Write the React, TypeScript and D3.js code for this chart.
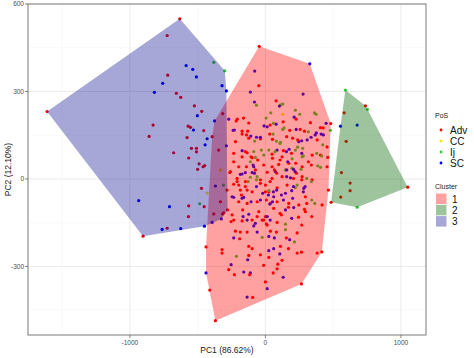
import React from 'react';
import * as d3 from 'd3';

// PoS codes: A = Adv, C = CC, I = Ij, S = SC
const posNames = ['Adv', 'CC', 'Ij', 'SC'];
const posCodes = ['A', 'C', 'I', 'S'];
const posColors = ['#ff0000', '#ffe600', '#33cc33', '#0000ff'];

const clusterNames = ['1', '2', '3'];
const clusterColors = ['#ff0000', '#006400', '#00008b'];
const clusterAlpha = [0.37, 0.38, 0.35];

const xTicks = [-1000, 0, 1000];
const xMinor = [-1500, -500, 500];
const yTicks = [-300, 0, 300, 600];
const yMinor = [-450, -150, 150, 450];

const cluster1: [number, number, string][] = [
  [-46, 455, 'A'], [327, 395, 'S'], [-79, 370, 'S'], [-49, 320, 'A'], [-111, 298, 'S'], [278, 291, 'S'],
  [-81, 264, 'S'], [-66, 253, 'I'], [79, 268, 'A'], [111, 254, 'I'], [128, 257, 'I'], [103, 250, 'S'],
  [39, 227, 'I'], [128, 222, 'C'], [221, 236, 'I'], [253, 222, 'I'], [212, 212, 'S'], [362, 227, 'I'],
  [374, 222, 'I'], [5, 209, 'I'], [-315, 224, 'A'], [-375, 199, 'S'], [-271, 205, 'S'], [-207, 205, 'A'],
  [-216, 199, 'A'], [-162, 209, 'A'], [-123, 192, 'A'], [-10, 182, 'S'], [13, 179, 'S'], [79, 188, 'S'],
  [131, 196, 'A'], [227, 205, 'A'], [332, 193, 'A'], [448, 191, 'S'], [482, 190, 'A'], [480, 167, 'I'],
  [-238, 167, 'S'], [-172, 164, 'A'], [-131, 164, 'A'], [128, 170, 'I'], [138, 175, 'I'], [179, 167, 'A'],
  [227, 170, 'S'], [288, 164, 'A'], [406, 176, 'A'], [426, 175, 'A'], [376, 158, 'S'], [57, 154, 'I'],
  [-108, 147, 'S'],
  [-393, 145, 'A'], [-221, 128, 'A'], [-123, 140, 'A'], [-79, 130, 'I'], [-37, 137, 'A'], [81, 130, 'I'],
  [111, 126, 'I'], [201, 140, 'A'], [246, 128, 'S'], [308, 134, 'S'], [382, 134, 'A'], [423, 117, 'I'],
  [-345, 99, 'A'], [-234, 88, 'A'], [-148, 94, 'A'], [-86, 94, 'I'], [-30, 99, 'I'], [25, 99, 'I'],
  [49, 85, 'A'], [86, 99, 'S'], [155, 94, 'S'], [192, 88, 'A'], [221, 99, 'I'], [275, 105, 'I'],
  [271, 76, 'I'], [345, 82, 'A'], [406, 82, 'A'], [-172, 76, 'A'], [-98, 73, 'A'], [123, 76, 'A'],
  [197, 69, 'I'], [455, 110, 'A'],
  [-234, 59, 'A'], [-111, 59, 'I'], [-197, 42, 'A'], [-86, 42, 'S'], [-13, 48, 'A'], [49, 42, 'A'],
  [98, 50, 'A'], [172, 54, 'A'], [197, 37, 'I'], [271, 42, 'A'], [339, 48, 'A'], [406, 40, 'I'],
  [455, 42, 'A'], [-258, 25, 'A'], [-185, 16, 'S'], [-74, 31, 'A'], [13, 23, 'A'], [74, 25, 'S'],
  [148, 31, 'I'], [229, 20, 'A'],
  [-209, 2, 'A'], [-128, -9, 'I'], [-61, 8, 'I'], [-37, -3, 'A'], [49, 2, 'A'], [123, 8, 'A'],
  [185, 4, 'S'], [271, 8, 'A'], [345, -3, 'A'], [-234, -18, 'A'], [-148, -26, 'A'], [0, -21, 'A'],
  [86, -30, 'A'], [160, -21, 'A'], [221, -30, 'I'], [234, -21, 'I'], [283, -32, 'S'], [339, -9, 'I'],
  [465, -38, 'A'],
  [-246, -61, 'S'], [-177, -55, 'A'], [-98, -44, 'A'], [-20, -49, 'S'], [25, -44, 'A'], [61, -61, 'S'],
  [118, -55, 'S'], [148, -49, 'S'], [201, -66, 'S'], [295, -61, 'A'], [418, -89, 'A'], [-332, -78, 'A'],
  [-197, -78, 'A'], [-135, -84, 'A'], [-61, -78, 'A'], [37, -84, 'A'], [86, -78, 'A'], [172, -84, 'A'],
  [246, -89, 'A'], [364, -84, 'I'],
  [-246, -123, 'A'], [-168, -106, 'A'], [-123, -121, 'S'], [-49, -112, 'A'], [0, -129, 'A'], [61, -101, 'A'],
  [118, -123, 'A'], [148, -106, 'S'], [209, -98, 'S'], [295, -112, 'A'], [-172, -144, 'A'], [-74, -152, 'S'],
  [-13, -141, 'A'], [86, -149, 'A'], [148, -155, 'I'], [13, -158, 'A'], [-393, -149, 'S'],
  [-221, -179, 'A'], [-185, -182, 'A'], [-135, -182, 'A'], [-234, -202, 'S'], [-190, -205, 'A'], [-61, -182, 'S'],
  [-24, -200, 'I'], [25, -197, 'S'], [66, -202, 'S'], [37, -179, 'A'], [81, -182, 'A'], [148, -174, 'I'],
  [155, -202, 'A'], [179, -208, 'S'], [214, -216, 'I'], [234, -185, 'A'], [-123, -231, 'A'], [-98, -239, 'A'],
  [-320, -242, 'A'], [-320, -254, 'A'], [-214, -265, 'I'], [-123, -262, 'A'], [-131, -277, 'S'], [-37, -260, 'A'],
  [25, -246, 'S'], [61, -239, 'S'], [106, -257, 'S'], [111, -231, 'A'], [170, -239, 'A'], [234, -254, 'A'],
  [266, -251, 'A'], [25, -269, 'A'], [123, -279, 'A'], [-253, -294, 'S'], [-271, -311, 'A'], [-160, -319, 'S'],
  [-111, -322, 'S'], [-116, -328, 'A'], [-229, -328, 'A'], [-13, -296, 'A'], [91, -292, 'A'], [86, -308, 'A'],
  [57, -322, 'A'], [131, -337, 'S'], [0, -353, 'A'], [13, -376, 'S'], [-135, -405, 'S'], [-94, -406, 'A'],
  [-438, -322, 'S'], [-438, -233, 'A'], [-411, -381, 'A'], [-369, -486, 'A'], [266, -360, 'A'], [416, -250, 'A'],
  [382, -254, 'A'],
  // denser centre, left half
  [-229, 168, 'S'], [-172, 154, 'A'], [-140, 151, 'A'], [-66, 143, 'S'], [-37, 143, 'S'], [32, 154, 'A'],
  [-172, 97, 'S'], [-135, 90, 'A'], [-106, 76, 'A'], [-74, 74, 'I'], [-12, 82, 'I'], [-57, 65, 'A'],
  [-91, 48, 'S'], [-140, 42, 'A'], [-172, 17, 'S'], [-148, 22, 'S'], [-98, 22, 'S'], [-81, 20, 'S'],
  [-111, 6, 'I'], [-66, -3, 'I'], [-209, -9, 'A'], [-197, -21, 'A'], [-148, -9, 'A'], [-263, 22, 'A'],
  [-283, -38, 'A'], [-185, -38, 'A'], [-135, -38, 'A'], [-66, -26, 'S'], [-37, -15, 'A'], [0, -44, 'A'],
  [25, -40, 'I'], [-172, -66, 'S'], [-160, -63, 'S'], [-106, -78, 'S'], [-37, -72, 'S'], [7, -72, 'A'],
  [32, -86, 'S'], [-234, -63, 'S'], [-234, -141, 'A'], [-165, -129, 'S'], [-135, -141, 'S'], [-98, -141, 'A'],
  [-61, -129, 'A'], [-24, -141, 'A'], [13, -129, 'S'], [-86, -161, 'S'], [7, -154, 'A'], [-253, -146, 'A'],
  // denser centre, right half
  [35, 185, 'A'], [59, 191, 'I'], [256, 170, 'A'], [317, 162, 'I'], [411, 154, 'S'], [428, 151, 'S'],
  [52, 136, 'A'], [108, 122, 'I'], [157, 145, 'A'], [238, 134, 'A'], [268, 131, 'S'], [337, 143, 'S'],
  [367, 151, 'S'], [72, 94, 'I'], [133, 97, 'A'], [175, 102, 'S'], [238, 109, 'I'], [268, 88, 'S'],
  [280, 79, 'I'], [379, 88, 'I'], [416, 79, 'I'], [460, 74, 'A'], [52, 71, 'A'], [108, 65, 'A'],
  [165, 59, 'S'], [224, 54, 'A'], [317, 59, 'A'], [386, 45, 'I'], [66, 31, 'A'], [83, 20, 'A'],
  [157, 31, 'S'], [207, 33, 'S'], [219, 25, 'S'], [263, 33, 'I'], [157, 8, 'S'], [207, 2, 'A'],
  [268, -3, 'A'], [305, 2, 'I'], [35, -9, 'A'], [59, -44, 'S'], [83, -38, 'S'], [133, -72, 'S'],
  [194, -40, 'S'], [207, -26, 'S'], [280, -44, 'S'], [293, -26, 'S'], [52, -78, 'S'], [22, -55, 'S'],
  [342, -72, 'I'], [305, -84, 'A'], [288, -104, 'A'], [170, -97, 'A'], [108, -118, 'A'], [194, -135, 'S'],
  [244, -131, 'A'], [35, -141, 'S'], [268, -158, 'A'], [342, -129, 'A'],
];

const cluster2: [number, number, string][] = [
  [590, 305, 'I'], [738, 251, 'A'], [753, 239, 'I'], [581, 227, 'A'], [554, 181, 'S'], [677, 185, 'S'],
  [596, 129, 'A'], [561, 22, 'A'], [625, -14, 'A'], [625, -40, 'A'], [556, -62, 'A'], [677, -97, 'I'],
  [1050, -28, 'A'], [485, -80, 'A'],
];

const cluster3: [number, number, string][] = [
  [-632, 549, 'A'], [-1611, 231, 'A'], [-903, -196, 'A'], [-725, 492, 'A'], [-721, 356, 'A'], [-657, 294, 'A'],
  [-625, 280, 'A'], [-524, 251, 'A'], [-470, 232, 'A'], [-829, 185, 'A'], [-858, 146, 'A'], [-570, 181, 'A'],
  [-553, 177, 'A'], [-455, 166, 'A'], [-578, 142, 'A'], [-677, 90, 'A'], [-546, 105, 'A'], [-509, 105, 'A'],
  [-509, 93, 'A'], [-566, 72, 'A'], [-489, 52, 'A'], [-460, 42, 'A'], [-448, 46, 'A'], [-500, 33, 'A'],
  [-472, -32, 'A'], [-452, -95, 'A'], [-566, -92, 'A'], [-568, -129, 'A'], [-725, -169, 'A'], [-381, -120, 'A'],
  [-317, -120, 'A'], [-308, -116, 'A'], [-280, -106, 'A'],
  [-381, 400, 'I'], [-300, 371, 'I'], [-485, -85, 'I'], [-310, -21, 'I'],
  [-430, -48, 'C'], [-332, 31, 'C'],
  [-320, 320, 'S'], [-288, 302, 'S'], [-585, 389, 'S'], [-536, 376, 'S'], [-509, 350, 'S'], [-758, 328, 'S'],
  [-819, 297, 'S'], [-502, 217, 'S'], [-531, 168, 'S'], [-430, 138, 'S'], [-445, 117, 'S'], [-935, -74, 'S'],
  [-708, -95, 'S'], [-762, -173, 'S'], [-625, -170, 'S'], [-450, -162, 'S'], [-369, -24, 'S'], [-288, 114, 'S'],
  [-325, -137, 'S'],
];

const clusters = [cluster1, cluster2, cluster3];

const W = 474;
const H = 358;
const panel = { left: 28, right: 426, top: 4, bottom: 335 };
const font = 'Liberation Sans, Arial, Helvetica, sans-serif';

export default function App() {
  const x = d3.scaleLinear().domain([-1752, 1185]).range([panel.left, panel.right]);
  const y = d3.scaleLinear().domain([-535, 600]).range([panel.bottom, panel.top]);
  const posColor = d3.scaleOrdinal<string, string>().domain(posCodes).range(posColors);

  const allPoints = clusters.flat();
  const hulls = clusters.map((pts) => d3.polygonHull(pts.map((p) => [x(p[0]), y(p[1])] as [number, number])));
  const line = d3.line();

  return (
    <svg width={W} height={H} style={{ position: 'absolute', left: 0, top: 0, background: '#fff' }} fontFamily={font}>
      <rect x={0} y={0} width={W} height={H} fill="#fff" />
      {/* grid */}
      {xMinor.map((v) => (
        <line key={'xm' + v} x1={x(v)} x2={x(v)} y1={panel.top} y2={panel.bottom} stroke="#f2f2f2" strokeWidth={0.5} />
      ))}
      {yMinor.map((v) => (
        <line key={'ym' + v} x1={panel.left} x2={panel.right} y1={y(v)} y2={y(v)} stroke="#f2f2f2" strokeWidth={0.5} />
      ))}
      {xTicks.map((v) => (
        <line key={'xg' + v} x1={x(v)} x2={x(v)} y1={panel.top} y2={panel.bottom} stroke="#e6e6e6" strokeWidth={0.8} />
      ))}
      {yTicks.map((v) => (
        <line key={'yg' + v} x1={panel.left} x2={panel.right} y1={y(v)} y2={y(v)} stroke="#e6e6e6" strokeWidth={0.8} />
      ))}

      {/* points */}
      {allPoints.map((p, i) => (
        <circle key={i} cx={x(p[0])} cy={y(p[1])} r={1.6} fill={posColor(p[2])} />
      ))}

      {/* hulls drawn over points */}
      {hulls.map((h, i) =>
        h ? (
          <path key={'h' + i} d={line(h) + 'Z'} fill={clusterColors[i]} fillOpacity={clusterAlpha[i]} stroke="none" />
        ) : null
      )}

      {/* panel border */}
      <rect x={panel.left} y={panel.top} width={panel.right - panel.left} height={panel.bottom - panel.top}
        fill="none" stroke="#7a7a7a" strokeWidth={1} />

      {/* axes */}
      {xTicks.map((v) => (
        <g key={'xt' + v}>
          <line x1={x(v)} x2={x(v)} y1={panel.bottom} y2={panel.bottom + 3} stroke="#555" strokeWidth={0.7} />
          <text x={x(v)} y={panel.bottom + 9.5} textAnchor="middle" fontSize={6.5} fill="#4d4d4d">{v}</text>
        </g>
      ))}
      {yTicks.map((v) => (
        <g key={'yt' + v}>
          <line x1={panel.left - 3} x2={panel.left} y1={y(v)} y2={y(v)} stroke="#555" strokeWidth={0.7} />
          <text x={panel.left - 4} y={y(v)} dy="0.35em" textAnchor="end" fontSize={6.5} fill="#4d4d4d">{v}</text>
        </g>
      ))}
      <text x={(panel.left + panel.right) / 2} y={353} textAnchor="middle" fontSize={8.5} fill="#222">PC1 (86.62%)</text>
      <text transform={`translate(11, ${(panel.top + panel.bottom) / 2}) rotate(-90)`} textAnchor="middle" fontSize={8.5} fill="#222">PC2 (12.10%)</text>

      {/* legend: PoS */}
      <text x={435} y={118} fontSize={7} fill="#222">PoS</text>
      {posNames.map((n, i) => (
        <g key={n}>
          <circle cx={441} cy={130 + i * 11} r={1.4} fill={posColors[i]} />
          <text x={450} y={130 + i * 11} dy="0.35em" fontSize={10} fill="#111">{n}</text>
        </g>
      ))}

      {/* legend: Cluster */}
      <text x={435} y={189} fontSize={7} fill="#222">Cluster</text>
      {clusterNames.map((n, i) => (
        <g key={n}>
          <rect x={436} y={193.5 + i * 11.3} width={10.5} height={10.5} fill={clusterColors[i]} fillOpacity={clusterAlpha[i]} />
          <text x={452} y={199 + i * 11.3} dy="0.35em" fontSize={10} fill="#111">{n}</text>
        </g>
      ))}
    </svg>
  );
}
